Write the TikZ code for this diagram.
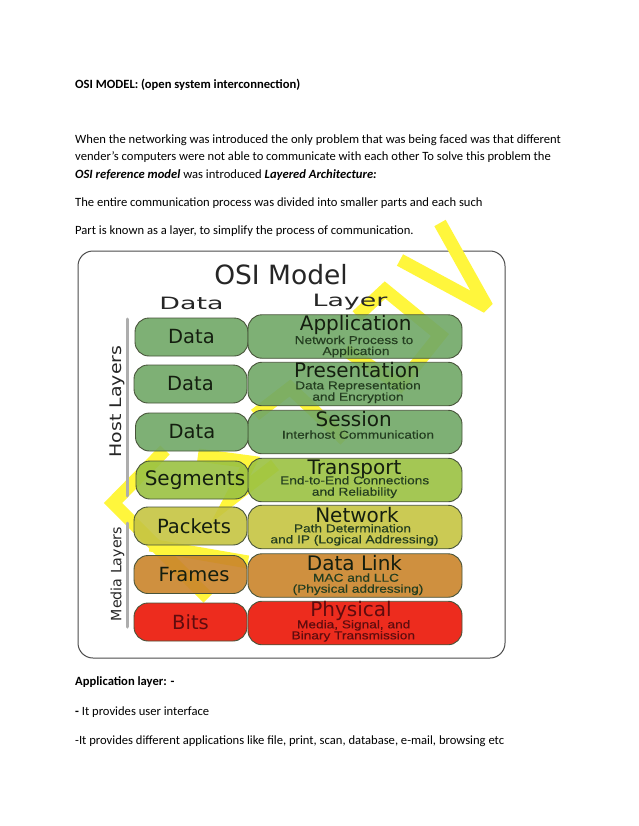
\documentclass[tikz,border=0pt]{standalone}
\usepackage{fontspec}
\setmainfont{Carlito}
\newfontfamily\djv{DejaVu Sans}
\newfontfamily\lib[FakeBold=0.25]{Liberation Sans}
\definecolor{wm}{RGB}{255,246,60}
\definecolor{cgreen}{RGB}{112,168,103}
\definecolor{cseg}{RGB}{155,194,66}
\definecolor{cnet}{RGB}{198,197,66}
\definecolor{cframe}{RGB}{202,132,43}
\definecolor{cred}{RGB}{236,22,6}
\definecolor{edge}{RGB}{72,84,58}
\definecolor{ink}{RGB}{20,30,15}
\definecolor{subink}{RGB}{36,62,32}
\definecolor{redink}{RGB}{95,12,14}
\tikzset{
 body/.style={anchor=base west,inner sep=0pt,text=black,font=\fontsize{12.6}{15}\selectfont},
 wmark/.style={draw=wm,line width=13pt,line join=miter,line cap=butt},
 lbox/.style={draw=edge,line width=0.9pt,fill opacity=0.9,text opacity=1,rounded corners=14pt,minimum width=113pt,minimum height=38pt,inner sep=0pt,text=ink,font=\djv\fontsize{19.5}{22}\selectfont},
 rbox/.style={draw=edge,line width=0.9pt,fill opacity=0.9,rounded corners=14pt,minimum width=214pt,minimum height=43.5pt,inner sep=0pt},
 ttl/.style={anchor=base,inner sep=0pt,text=ink,font=\djv\fontsize{20}{22}\selectfont},
 subt/.style={anchor=base,inner sep=0pt,xscale=1.2,transform shape,text=subink,font=\lib\fontsize{11.4}{13}\selectfont},
 head/.style={anchor=base,inner sep=0pt,xscale=1.58,transform shape,text=black!85,font=\djv\fontsize{17}{20}\selectfont},
 side/.style={inner sep=0pt,rotate=90,text=black!85},
 sidebar/.style={draw=black!32,line width=3pt,line cap=round},
}
\begin{document}
\begin{tikzpicture}[x=1pt,y=-1pt]
\useasboundingbox (0,0) rectangle (638,826);
\fill[white] (0,0) rectangle (638,826);
% page text
\node[body] (t1) at (75,88.5) {\textbf{OSI MODEL: (open system interconnection)}};
\node[body] (t2) at (75,143.5) {When the networking was introduced the only problem that was being faced was that different};
\node[body] (t3) at (75,161) {vender’s computers were not able to communicate with each other To solve this problem the};
\node[body] (t4) at (75,178.5) {\textbf{\textit{OSI reference model}} was introduced \textbf{\textit{Layered Architecture:}}};
\node[body] (t5) at (75,207) {The entire communication process was divided into smaller parts and each such};
\node[body] (t6) at (75,234.5) {Part is known as a layer, to simplify the process of communication.};
\node[body] (t7) at (75,685) {\textbf{Application layer: -}};
\node[body] (t8) at (75,715.5) {\textbf{-} It provides user interface};
\node[body] (t9) at (75,744.5) {-It provides different applications like file, print, scan, database, e-mail, browsing etc};
% panel
\draw[black!70,line width=1pt,fill=white,rounded corners=15pt] (78,251) rectangle (505,658);
% watermark
\draw[wmark,line join=bevel] (440,223) -- (487,307) -- (400,260);
\draw[wmark] (357,316) -- (385,290) -- (440,335) -- (400,385) -- (345,350);
\draw[wmark] (255,415) -- (290,388) -- (345,440);
\draw[wmark] (165,450) -- (113,503) -- (208,598);
\draw[wmark] (198,455) -- (250,462) -- (230,500) -- (275,465);
\draw[wmark] (150,545) -- (248,562);
% frame lines
\draw[sidebar] (127,319) -- (127,496);
\draw[sidebar] (127,523) -- (127,627);
% heads
\node[inner sep=0pt,text=black!85,font=\djv\fontsize{26.5}{30}\selectfont] (title) at (281,275) {OSI Model};
\node[head] (hd) at (191.5,309) {Data};
\node[head] (hl) at (350,306.7) {Layer};
\node[side,xscale=1.18,transform shape,font=\djv\fontsize{16}{18}\selectfont] (host) at (117,401.5) {Host Layers};
\node[side,font=\djv\fontsize{14.2}{16}\selectfont] (media) at (117.5,574) {Media Layers};
% left column
\node[lbox,fill=cgreen] (d1) at (191.5,337) {Data};
\node[lbox,fill=cgreen] (d2) at (190.5,384) {Data};
\node[lbox,fill=cgreen] (d3) at (192,432) {Data};
\node[lbox,fill=cseg,font=\djv\fontsize{20}{22}\selectfont] (d4) at (192.5,480) {\hspace*{5pt}Segments};
\node[lbox,fill=cnet] (d5) at (190.5,526) {\hspace*{7pt}Packets};
\node[lbox,fill=cframe] (d6) at (190.5,574.5) {\hspace*{7pt}Frames};
\node[lbox,fill=cred,text=redink] (d7) at (190.5,622) {Bits};
% right column
\node[rbox,fill=cgreen] (r1) at (355,336.5) {};
\node[rbox,fill=cgreen] (r2) at (355,384) {};
\node[rbox,fill=cgreen] (r3) at (355,432) {};
\node[rbox,fill=cseg] (r4) at (355,480) {};
\node[rbox,fill=cnet] (r5) at (355,527) {};
\node[rbox,fill=cframe] (r6) at (355,575.5) {};
\node[rbox,fill=cred] (r7) at (355,623) {};
% right labels
\node[ttl] (l1) at (355.7,330.7) {Application};
\node[subt] (l1a) at (354,344) {Network Process to};
\node[subt] (l1b) at (356,355) {Application};
\node[ttl] (l2) at (357,377.7) {Presentation};
\node[subt] (l2a) at (358,389.3) {Data Representation};
\node[subt] (l2b) at (358,400.7) {and Encryption};
\node[ttl] (l3) at (353.7,426.7) {Session};
\node[subt] (l3a) at (358,438.7) {Interhost Communication};
\node[ttl] (l4) at (354.5,474.3) {Transport};
\node[subt] (l4a) at (354.7,484.3) {End-to-End Connections};
\node[subt] (l4b) at (354.5,495.7) {and Reliability};
\node[ttl] (l5) at (357,522.3) {Network};
\node[subt] (l5a) at (352.5,532.3) {Path Determination};
\node[subt] (l5b) at (354.5,543.3) {and IP (Logical Addressing)};
\node[ttl] (l6) at (354.5,570) {Data Link};
\node[subt] (l6a) at (356,581.7) {MAC and LLC};
\node[subt] (l6b) at (358,592.7) {(Physical addressing)};
\node[ttl,text=redink] (l7) at (351,616.7) {Physical};
\node[subt,text=redink] (l7a) at (353.7,628.3) {Media, Signal, and};
\node[subt,text=redink] (l7b) at (353.3,639.3) {Binary Transmission};
\end{tikzpicture}
\end{document}
